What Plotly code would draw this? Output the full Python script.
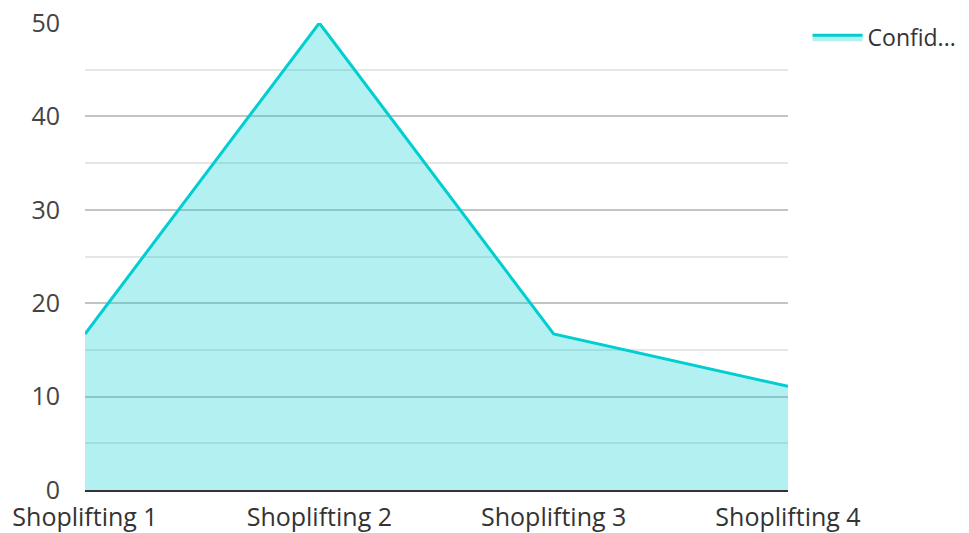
import plotly.graph_objects as go

categories = ["Shoplifting 1", "Shoplifting 2", "Shoplifting 3", "Shoplifting 4"]
values = [16.7, 50, 16.7, 11.1]
series_name = "Confid..."

fig = go.Figure()
fig.add_trace(go.Scatter(
    x=categories, y=values, name=series_name, mode="lines",
    line=dict(color="#00CED1", width=3),
    fill="tozeroy", fillcolor="rgba(0,206,209,0.3)",
))

fig.update_layout(
    width=961, height=525,
    margin=dict(l=77, r=181, t=15, b=43),
    plot_bgcolor="white", paper_bgcolor="white",
    font=dict(family="Open Sans", size=25, color="#444"),
    showlegend=True,
    legend=dict(xref="container", yref="container", x=0.832, y=0.985,
                xanchor="left", yanchor="top",
                font=dict(size=23, color="#333"), itemwidth=50),
    xaxis=dict(range=[0, 3], showgrid=False, showline=True, linecolor="#333",
               linewidth=2, ticks="", tickfont=dict(size=25, color="#333"),
               zeroline=False, automargin=False, ticklabelstandoff=4,
               ticklabeloverflow="allow"),
    yaxis=dict(range=[0, 50], dtick=10, showgrid=True, gridcolor="#c4c4c4",
               gridwidth=1.5, zeroline=False, showline=False, ticks="",
               automargin=False, ticklabeloverflow="allow",
               ticklabelstandoff=24, tickfont=dict(size=25, color="#444"),
               minor=dict(dtick=5, showgrid=True, gridcolor="#e6e6e6", gridwidth=1.5)),
)

fig.write_html("out.html")
